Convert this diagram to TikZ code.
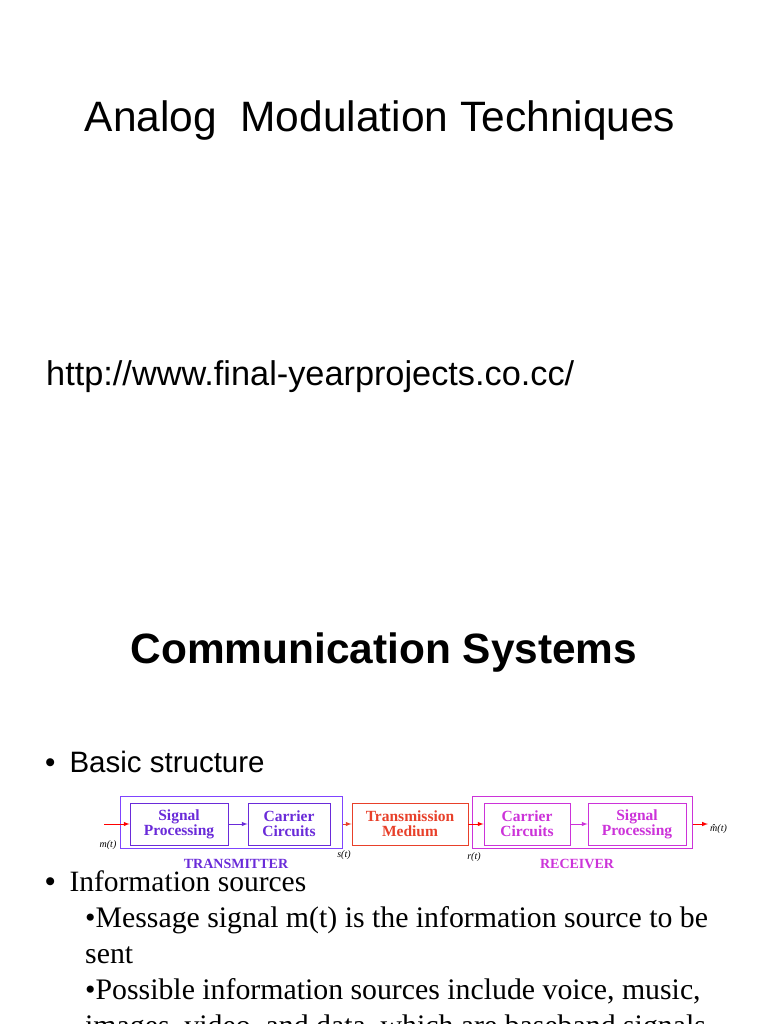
\documentclass[tikz,border=0pt]{standalone}
\usepackage{fontspec}
\setmainfont{Liberation Serif}
\newfontfamily\arial{Liberation Sans}
\begin{document}
\begin{tikzpicture}[x=1pt,y=-1pt,
  blk/.style={draw,line width=0.9pt,minimum height=42pt,align=center,font=\fontsize{15.5}{15}\selectfont\bfseries\rmfamily,inner sep=0pt},
  arr/.style={-latex,line width=1pt},
  lab/.style={font=\fontsize{10}{11}\selectfont\itshape},
  side/.style={font=\fontsize{14}{14}\selectfont\bfseries,inner sep=0pt,anchor=base}]
\definecolor{tx}{HTML}{6A2BD9}
\definecolor{txb}{HTML}{7F44FF}
\definecolor{md}{HTML}{E8402A}
\definecolor{rx}{HTML}{CC33D9}
\useasboundingbox (0,0) rectangle (768,1024);
\clip (0,0) rectangle (768,1024);
\fill[white] (0,0) rectangle (768,1024);
\node[anchor=base,font=\arial\fontsize{42.5}{44}\selectfont] (title) at (380,132) {Analog\ \ Modulation Techniques};
\node[anchor=base west,font=\arial\fontsize{34.3}{36}\selectfont,inner sep=0] (url) at (46,385) {http://www.final-yearprojects.co.cc/};
\node[anchor=base,font=\arial\bfseries\fontsize{42.4}{44}\selectfont] (cs) at (384,663) {Communication Systems};
\node[anchor=base west,font=\arial\fontsize{29.5}{30}\selectfont,inner sep=0] (b1) at (45,772) {\textbullet\hspace{14pt}Basic structure};
% diagram
\node[draw=txb,line width=0.9pt,minimum width=222pt,minimum height=52pt,anchor=north west] (txbox) at (120,796) {};
\node[draw=rx,line width=0.9pt,minimum width=220pt,minimum height=52pt,anchor=north west] (rxbox) at (472,796) {};
\node[blk,draw=tx,text=tx,minimum width=98pt] (sp1) at (179,824) {Signal\\Processing};
\node[blk,draw=tx,text=tx,minimum width=82pt] (cc1) at (289,824) {Carrier\\Circuits};
\node[blk,draw=md,text=md,minimum width=116pt] (tm) at (410,824) {Transmission\\Medium};
\node[blk,draw=rx,text=rx,minimum width=86pt] (cc2) at (527,824) {Carrier\\Circuits};
\node[blk,draw=rx,text=rx,minimum width=98pt] (sp2) at (637,824) {Signal\\Processing};
\coordinate (in) at (104,824);
\coordinate (out) at (708,824);
\draw[arr,red] (in) -- (sp1);
\draw[arr,tx] (sp1) -- (cc1);
\draw[arr,md] (txbox.east|-tm) -- (tm);
\draw[arr,red] (tm) -- (cc2);
\draw[arr,rx] (cc2) -- (sp2);
\draw[arr,red] (rxbox.east|-sp2) -- (out);
\node[lab] (mt) at (108,845) {m(t)};
\node[lab] (st) at (344,855) {s(t)};
\node[lab] (rt) at (474,857) {r(t)};
\node[lab,anchor=west,inner sep=0] (mh) at (710,829) {\^{m}(t)};
\node[side,text=tx] (txl) at (236,868) {TRANSMITTER};
\node[side,text=rx] (rxl) at (577,868) {RECEIVER};
\node[anchor=base west,font=\fontsize{29.5}{30}\selectfont,inner sep=0] (b2) at (45,891) {\arial\textbullet\hspace{14pt}\rmfamily Information sources};
\node[anchor=base west,font=\fontsize{29.8}{30}\selectfont,inner sep=0] (l1) at (85,927) {\textbullet Message signal m(t) is the information source to be};
\node[anchor=base west,font=\fontsize{29.8}{30}\selectfont,inner sep=0] (l2) at (85,963) {sent};
\node[anchor=base west,font=\fontsize{29.8}{30}\selectfont,inner sep=0] (l3) at (85,999) {\textbullet Possible information sources include voice, music,};
\node[anchor=base west,font=\fontsize{29.8}{30}\selectfont,inner sep=0] (l4) at (85,1035) {images, video, and data, which are baseband signals};
\end{tikzpicture}
\end{document}
